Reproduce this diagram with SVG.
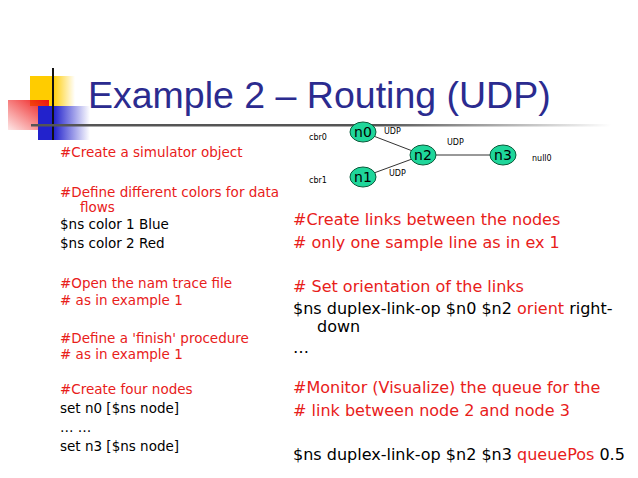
<svg xmlns="http://www.w3.org/2000/svg" width="638" height="478" viewBox="0 0 638 478">
<defs>
<linearGradient id="gy" x1="0" x2="1"><stop offset="0.5" stop-color="#ffcc00"/><stop offset="1" stop-color="#ffcc00" stop-opacity="0"/></linearGradient>
<linearGradient id="gr" x1="1" x2="0" y1="0" y2="1"><stop offset="0" stop-color="#ee1111"/><stop offset="1" stop-color="#ee1111" stop-opacity="0.1"/></linearGradient>
<linearGradient id="gb" x1="0" x2="1"><stop offset="0.3" stop-color="#2222cc"/><stop offset="1" stop-color="#2222cc" stop-opacity="0"/></linearGradient>
<linearGradient id="gl" x1="0" x2="1"><stop offset="0.6" stop-color="#555"/><stop offset="1" stop-color="#555" stop-opacity="0"/></linearGradient>
</defs>
<style>
.l{font-family:"DejaVu Sans",Verdana,sans-serif;font-size:13.5px;fill:#000}
.r{font-family:"DejaVu Sans",Verdana,sans-serif;font-size:16px;fill:#000}
.red{fill:#e8201a}
.s{font-family:"DejaVu Sans",sans-serif;font-size:8px;fill:#000}
.node ellipse{fill:#1fd69a;stroke:#0a5a3a;stroke-width:1}
.node text{font-family:"DejaVu Sans",sans-serif;font-size:14px;fill:#000;text-anchor:middle}
</style>
<rect width="638" height="478" fill="#fff"/>
<rect x="30" y="76" width="45" height="30" fill="url(#gy)"/>
<rect x="8" y="100" width="41" height="30" fill="url(#gr)"/>
<rect x="38" y="106" width="52" height="34" fill="url(#gb)"/>
<line x1="53" y1="68" x2="53" y2="140" stroke="#111" stroke-width="2"/>
<rect x="31" y="124" width="580" height="2.5" fill="url(#gl)"/>
<text x="88" y="108" font-family="Liberation Sans,Arial,sans-serif" font-size="37.5" fill="#2b2b8f">Example 2 – Routing (UDP)</text>
<g id="connectors" stroke="#333" stroke-width="1">
<line x1="363" y1="132" x2="423" y2="155"/>
<line x1="363" y1="177" x2="423" y2="155"/>
<line x1="423" y1="155" x2="503" y2="155"/>
</g>
<g id="n0" class="node"><ellipse cx="363" cy="132" rx="13" ry="10"/><text x="363" y="137">n0</text></g>
<g id="n1" class="node"><ellipse cx="363" cy="177" rx="13" ry="10"/><text x="363" y="182">n1</text></g>
<g id="n2" class="node"><ellipse cx="423" cy="155" rx="13" ry="10"/><text x="423" y="160">n2</text></g>
<g id="n3" class="node"><ellipse cx="503" cy="155" rx="13" ry="10"/><text x="503" y="160">n3</text></g>
<text class="s" x="384" y="134">UDP</text>
<text class="s" x="447" y="145">UDP</text>
<text class="s" x="389" y="176">UDP</text>
<text class="s" x="309" y="140">cbr0</text>
<text class="s" x="309" y="183">cbr1</text>
<text class="s" x="532" y="161">null0</text>
<g class="l">
<text x="60" y="157" class="red">#Create a simulator object</text>
<text x="60" y="197" class="red">#Define different colors for data</text>
<text x="80" y="212" class="red">flows</text>
<text x="60" y="229">$ns color 1 Blue</text>
<text x="60" y="248">$ns color 2 Red</text>
<text x="60" y="288" class="red">#Open the nam trace file</text>
<text x="60" y="305" class="red"># as in example 1</text>
<text x="60" y="343" class="red">#Define a 'finish' procedure</text>
<text x="60" y="359" class="red"># as in example 1</text>
<text x="60" y="394" class="red">#Create four nodes</text>
<text x="60" y="413">set n0 [$ns node]</text>
<text x="60" y="432">… …</text>
<text x="60" y="451">set n3 [$ns node]</text>
</g>
<g class="r">
<text x="293" y="225" class="red">#Create links between the nodes</text>
<text x="293" y="248" class="red"># only one sample line as in ex 1</text>
<text x="293" y="292" class="red"># Set orientation of the links</text>
<text x="293" y="314">$ns duplex-link-op $n0 $n2 <tspan class="red">orient</tspan> right-</text>
<text x="317" y="332">down</text>
<text x="293" y="353">…</text>
<text x="293" y="393" class="red">#Monitor (Visualize) the queue for the</text>
<text x="293" y="416" class="red">#  link between node 2 and node 3</text>
<text x="293" y="460">$ns duplex-link-op $n2 $n3 <tspan class="red">queuePos</tspan> 0.5</text>
</g>
</svg>
